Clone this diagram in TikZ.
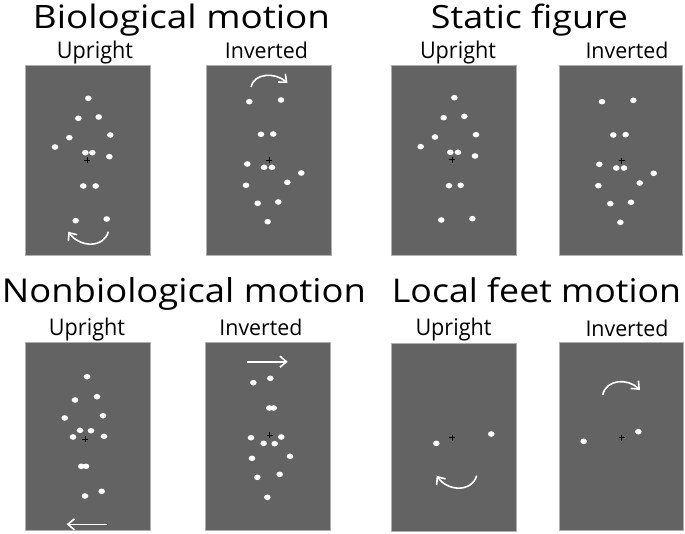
\documentclass[tikz,border=0pt]{standalone}
\usepackage{graphicx}
\usepackage{fontspec}
\setmainfont{Open Sans}
\usetikzlibrary{arrows.meta}
\definecolor{panelgray}{RGB}{99,99,99}
\definecolor{paneledge}{RGB}{175,175,175}
\tikzset{
  panelbox/.style={fill=panelgray, draw=paneledge, line width=0.6pt, inner sep=0pt, minimum width=125pt, minimum height=190pt},
  txt/.style={inner sep=0pt, anchor=base, text=black},
  dot/.style={fill=white},
  motion/.style={draw=white, line width=1.6pt, -{Straight Barb[length=6.5pt,width=11pt,line width=1.6pt]}},
  fixcross/.pic={\draw[black, line width=0.8pt] (-3,0) -- (3,0) (0,-3) -- (0,3);}
}
\newcommand{\fitw}[3]{\resizebox{#1}{#2}{#3}}
\begin{document}
\begin{tikzpicture}[x=1pt, y=-1pt]
\useasboundingbox (0,0) rectangle (685,534);
% titles
\node[txt] (t1) at (181.5,28.5) {\fitw{297pt}{24.5pt}{Biological motion}};
\node[txt] (t2) at (529.5,28.5) {\fitw{197pt}{24.5pt}{Static figure}};
\node[txt] (t3) at (184,303) {\fitw{364pt}{25pt}{Nonbiological motion}};
\node[txt] (t4) at (536.5,303) {\fitw{289pt}{25pt}{Local feet motion}};
% subtitles
\node[txt] (s1) at (95,58.5) {\fitw{76pt}{17.5pt}{Upright}};
\node[txt] (s2) at (266.5,58.5) {\fitw{83pt}{16.5pt}{Inverted}};
\node[txt] (s3) at (458,58.5) {\fitw{76pt}{17.5pt}{Upright}};
\node[txt] (s4) at (627,58.5) {\fitw{83pt}{16.5pt}{Inverted}};
\node[txt] (s5) at (87,336) {\fitw{76pt}{17.5pt}{Upright}};
\node[txt] (s6) at (261,336) {\fitw{83pt}{16.5pt}{Inverted}};
\node[txt] (s7) at (453.5,336) {\fitw{76pt}{17.5pt}{Upright}};
\node[txt] (s8) at (627,336.5) {\fitw{83pt}{16.5pt}{Inverted}};
% panels
\node[panelbox] (p1) at (87.5,160) {};
\node[panelbox] (p2) at (268.5,160) {};
\node[panelbox] (p3) at (453.5,160) {};
\node[panelbox, minimum width=123pt] (p4) at (620.5,160) {};
\node[panelbox, minimum height=188pt] (p5) at (87.5,436) {};
\node[panelbox, minimum height=188pt] (p6) at (267.5,436) {};
\node[panelbox, minimum height=188pt] (p7) at (453.5,437) {};
\node[panelbox, minimum width=124pt, minimum height=188pt] (p8) at (621,436.5) {};
% dots panel 1
\foreach \x/\y in {88.3/98.3, 78.3/118.3, 98.7/117, 69.3/137.7, 110.3/135, 55/147, 85.3/152.7, 92.3/152.7, 109.3/156.7, 83.3/186, 95.7/186, 75.7/220.7, 106.7/219}
  \fill[dot] (\x,\y) ellipse [x radius=3.3pt, y radius=2.8pt];
\pic at (87.3,160) {fixcross};
\draw[motion] (108.3,231.7) .. controls (104,248) and (80,248) .. (68.3,231.7);
% dots panel 2
\foreach \x/\y in {249.3/101.7, 281/100, 261/134.3, 273.3/134, 247.3/164, 264/167.3, 272/167.3, 301.3/173, 246/185.3, 287.3/182.3, 257.7/203.3, 278.3/202, 267.7/221.7}
  \fill[dot] (\x,\y) ellipse [x radius=3.3pt, y radius=2.8pt];
\pic at (269,160) {fixcross};
\draw[motion] (251,87) .. controls (254,73) and (275,72) .. (287.5,83);
% dots panel 3
\foreach \x/\y in {454.3/97.7, 443.7/117.7, 464.3/116.3, 435/137, 476/134.7, 420.7/146.7, 450.3/152.3, 458/152.3, 475/156, 449/185.7, 460.7/185.3, 441.3/220, 472.3/218.7}
  \fill[dot] (\x,\y) ellipse [x radius=3.3pt, y radius=2.8pt];
\pic at (452,159.7) {fixcross};
% dots panel 4
\foreach \x/\y in {602/101.7, 633.3/100.3, 613.3/135, 625.7/134.7, 599.3/164.3, 616.3/168, 624/168, 653.7/173.3, 598.3/185.7, 639.7/183, 610.3/203.7, 631/202.3, 620.3/222.3}
  \fill[dot] (\x,\y) ellipse [x radius=3.3pt, y radius=2.8pt];
\pic at (621.7,160.7) {fixcross};
% dots panel 5
\foreach \x/\y in {87/376.7, 75/400, 97/396.7, 64.7/418, 103/415.7, 80/430.3, 91/430.7, 73/437, 104/436.3, 81.3/466.3, 86/466.3, 85/496, 101.7/491.3}
  \fill[dot] (\x,\y) ellipse [x radius=3.3pt, y radius=2.8pt];
\pic at (85.3,439.3) {fixcross};
\coordinate (a5s) at (107.3,524.3);
\coordinate (a5e) at (66.7,524.3);
\draw[motion] (a5s) -- (a5e);
% dots panel 6
\foreach \x/\y in {253.3/382.7, 270.3/378.3, 269.3/408, 273.7/408, 251/437.7, 281.3/437, 263.7/443.3, 274.7/443.7, 252/458.3, 290/456.3, 257.3/477.3, 279.7/474.3, 267.3/497.3}
  \fill[dot] (\x,\y) ellipse [x radius=3.3pt, y radius=2.8pt];
\pic at (269.7,435) {fixcross};
\coordinate (a6s) at (246.7,361.7);
\coordinate (a6e) at (287.7,361.7);
\draw[motion] (a6s) -- (a6e);
% panel 7
\foreach \x/\y in {436.3/443.3, 491.3/434}
  \fill[dot] (\x,\y) ellipse [x radius=3.3pt, y radius=2.8pt];
\pic at (452.3,437.7) {fixcross};
\draw[motion] (476.7,475.7) .. controls (472,492) and (448,492) .. (436.7,475.7);
% panel 8
\foreach \x/\y in {583.7/441.3, 638.3/431.7}
  \fill[dot] (\x,\y) ellipse [x radius=3.3pt, y radius=2.8pt];
\pic at (621.7,437.7) {fixcross};
\draw[motion] (602.7,395) .. controls (606,379) and (628,378) .. (640,390);
\end{tikzpicture}
\end{document}
